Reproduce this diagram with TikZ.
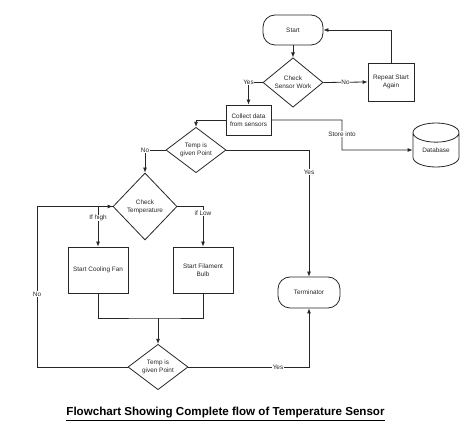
\documentclass[tikz,border=0pt]{standalone}
\usepackage{fontspec}
\setmainfont{Liberation Sans}
\usetikzlibrary{shapes.geometric,arrows.meta}
\begin{document}
\begin{tikzpicture}[x=1pt,y=-1pt,
  every node/.style={font=\fontsize{6.4}{7.8}\selectfont, text=black!85, align=center},
  line/.style={draw=black!85, line width=0.8pt},
  arr/.style={line, -{Latex[length=5pt,width=4pt]}},
  box/.style={draw=black!85, line width=0.8pt, rectangle, inner sep=0pt},
  term/.style={box, rounded corners=12pt},
  dia/.style={draw=black!85, line width=0.8pt, diamond, inner sep=0pt},
  lab/.style={fill=white, inner sep=0.5pt}]
\useasboundingbox (0,0) rectangle (474,443);
\node[term, minimum width=60pt, minimum height=30pt] (start) at (293,30) {Start};
\node[dia, minimum width=60pt, minimum height=45pt] (csw) at (293,82.5) {Check\\Sensor Work};
\node[box, minimum width=46pt, minimum height=38pt] (rep) at (391,82) {Repeat Start\\Again};
\node[box, minimum width=45pt, minimum height=30pt] (col) at (248.5,120) {Collect data\\from sensors};
\node[draw=black!85, line width=0.8pt, cylinder, shape border rotate=90, aspect=0.7, minimum width=46pt, minimum height=44pt, inner sep=0pt] (db) at (436,150) {Database};
\node[dia, minimum width=60pt, minimum height=44pt] (tg1) at (196,150) {Temp is\\given Point};
\node[dia, minimum width=64pt, minimum height=67pt] (ct) at (145,206.5) {Check\\Temperature};
\node[box, minimum width=60pt, minimum height=46pt] (fan) at (98,270) {Start Cooling Fan};
\node[box, minimum width=60pt, minimum height=46pt] (bulb) at (203,270) {Start Filament\\Bulb};
\node[term, minimum width=62pt, minimum height=31pt] (trm) at (309,292.5) {Terminator};
\node[dia, minimum width=60pt, minimum height=44pt] (tg2) at (158,367) {Temp is\\given Point};
\node[font=\fontsize{11.6}{13}\selectfont\bfseries, text=black] (title) at (225.5,414) {\underline{Flowchart Showing Complete flow of Temperature Sensor}};
\coordinate (s1) at (342,150);
\coordinate (m) at (158,318);
\coordinate (nl) at (37,367);
\draw[arr] (start.south) -- (csw.north);
\draw[arr] (csw.east) -- node[lab]{No} (rep.west);
\draw[arr] (rep.north) |- (start.east);
\draw[arr] (csw.west) -| node[lab, pos=0.5]{Yes} (col.north);
\draw[arr] (col.east) -| (s1) -- (db.west);
\node[lab] (lst) at (342,134) {Store into};
\draw[arr] (col.west) -| (tg1.north);
\draw[arr] (tg1.east) -| (trm.north);
\node[lab] (ly1) at (309,172) {Yes};
\draw[arr] (tg1.west) -| node[lab, pos=0.5]{No} (ct.north);
\draw[arr] (ct.west) -| (fan.north);
\node[lab] (lh) at (98,218) {If high};
\draw[arr] (ct.east) -| (bulb.north);
\node[lab] (ll) at (203,213) {if Low};
\draw[line] (fan.south) |- (m) -| (bulb.south);
\draw[arr] (m) -- (tg2.north);
\draw[arr] (tg2.east) -| (trm.south);
\node[lab] (ly2) at (278,367) {Yes};
\draw[arr] (tg2.west) -- (nl) |- (ct.west);
\node[lab] (ln) at (37,294) {No};
\end{tikzpicture}
\end{document}
